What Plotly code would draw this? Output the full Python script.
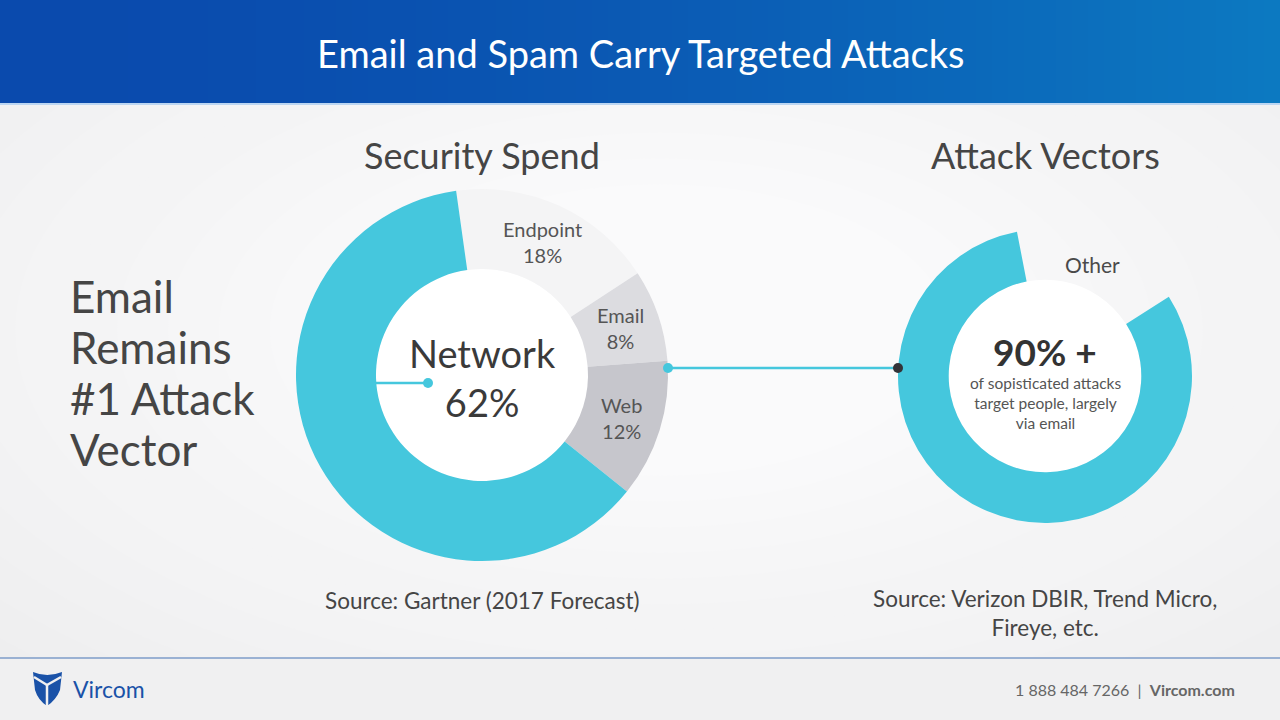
import math
import plotly.graph_objects as go

# ---------------- data ----------------
spend_labels = ["Endpoint", "Email", "Web", "Network"]
spend_values = [18, 8, 12, 62]
spend_colors = ["#F4F4F5", "#DCDCE0", "#C6C6CC", "#45C7DD"]

vector_labels = ["Other", "People / email"]
vector_values = [19, 81]          # shares as drawn in the ring
vector_colors = ["rgba(0,0,0,0)", "#45C7DD"]

W, H = 1280, 720
FONT = "Lato"
TXT = "#454545"

# geometry (pixels)
c1x, c1y, r1, hole1, rot1 = 482, 375, 186, 0.57, -8
c2x, c2y, r2, hole2, rot2 = 1045, 376, 147, 0.655, -11


def dom(cx, cy, r):
    return dict(x=[(cx - r) / W, (cx + r) / W], y=[1 - (cy + r) / H, 1 - (cy - r) / H])


def lerp(a, b, t):
    return tuple(int(round(a[i] + (b[i] - a[i]) * t)) for i in range(3))


def mid_points(values, rot, cx, cy, r_in, r_out):
    tot = float(sum(values))
    out, acc = [], 0.0
    rm = (r_in + r_out) / 2
    for v in values:
        th = math.radians(rot + 360 * (acc + v / 2) / tot)
        out.append((cx + rm * math.sin(th), cy - rm * math.cos(th)))
        acc += v
    return out


shapes = []
# soft radial background
nb = 14
for i in range(nb):
    s = 1.0 - i / nb * 0.75
    col = lerp((238, 238, 239), (250, 250, 251), i / (nb - 1))
    shapes.append(dict(type="circle", xref="x", yref="y", x0=660 - 950 * s, x1=660 + 950 * s,
                       y0=330 - 480 * s, y1=330 + 480 * s, fillcolor="rgb(%d,%d,%d)" % col,
                       line_width=0, layer="below"))
# header gradient
n = 80
left, right = (10, 74, 173), (12, 121, 193)
for i in range(n):
    t = i / (n - 1)
    col = lerp(left, right, t ** 1.6)
    shapes.append(dict(type="rect", xref="x", yref="y", x0=W * i / n, x1=W * (i + 1) / n + 1,
                       y0=0, y1=103, fillcolor="rgb(%d,%d,%d)" % col, line_width=0, layer="below"))
shapes.append(dict(type="line", xref="x", yref="y", x0=0, x1=W, y0=104, y1=104,
                   line=dict(color="#BCD6F2", width=2), layer="below"))
# footer
shapes.append(dict(type="rect", xref="x", yref="y", x0=0, x1=W, y0=658, y1=H,
                   fillcolor="#F0F0F1", line_width=0, layer="below"))
shapes.append(dict(type="line", xref="x", yref="y", x0=0, x1=W, y0=658, y1=658,
                   line=dict(color="#7E9DC8", width=1.5), layer="below"))
# white donut holes
for cx, cy, r, h in [(c1x, c1y, r1, hole1), (c2x, c2y, r2, hole2)]:
    shapes.append(dict(type="circle", xref="x", yref="y", x0=cx - r * h, x1=cx + r * h,
                       y0=cy - r * h, y1=cy + r * h, fillcolor="#FFFFFF", line_width=0, layer="below"))
# connector between the two charts
ly = 368
shapes.append(dict(type="line", xref="x", yref="y", x0=c1x + r1, x1=c2x - r2, y0=ly, y1=ly,
                   line=dict(color="#45C7DD", width=2.5), layer="above"))
shapes.append(dict(type="circle", xref="x", yref="y", x0=c1x + r1 - 5, x1=c1x + r1 + 5,
                   y0=ly - 5, y1=ly + 5, fillcolor="#45C7DD", line_width=0, layer="above"))
shapes.append(dict(type="circle", xref="x", yref="y", x0=c2x - r2 - 5, x1=c2x - r2 + 5,
                   y0=ly - 5, y1=ly + 5, fillcolor="#333338", line_width=0, layer="above"))
# pointer into Network
py = 383
shapes.append(dict(type="line", xref="x", yref="y", x0=c1x - r1 * hole1, x1=c1x - 54, y0=py, y1=py,
                   line=dict(color="#45C7DD", width=2.5), layer="above"))
shapes.append(dict(type="circle", xref="x", yref="y", x0=c1x - 59, x1=c1x - 49,
                   y0=py - 5, y1=py + 5, fillcolor="#45C7DD", line_width=0, layer="above"))
# Vircom logo
shapes.append(dict(type="path", xref="x", yref="y",
                   path="M 33 672 Q 47 678 62 672 L 60 690 Q 56 700 47 706 Q 38 700 35 690 Z",
                   fillcolor="#1A52A8", line_width=0, layer="above"))
for x1, y1 in [(34, 677), (61, 677), (47, 707)]:
    shapes.append(dict(type="line", xref="x", yref="y", x0=47, y0=685, x1=x1, y1=y1,
                       line=dict(color="#F0F0F1", width=2.5), layer="above"))

fig = go.Figure()
fig.add_trace(go.Pie(
    labels=spend_labels, values=spend_values, sort=False, direction="clockwise", rotation=rot1,
    hole=hole1, domain=dom(c1x, c1y, r1),
    marker=dict(colors=spend_colors, line=dict(width=0)),
    textinfo="none", hoverinfo="skip", showlegend=False))
fig.add_trace(go.Pie(
    labels=vector_labels, values=vector_values, sort=False, direction="clockwise", rotation=rot2,
    hole=hole2, domain=dom(c2x, c2y, r2),
    marker=dict(colors=vector_colors, line=dict(width=0)),
    textinfo="none", hoverinfo="skip", showlegend=False))
# invisible scatter to establish pixel axes
fig.add_trace(go.Scatter(x=[0, W], y=[0, H], mode="markers", marker=dict(opacity=0),
                         hoverinfo="skip", showlegend=False))

ann = []


def A(text, x, y, size, color=TXT, xanchor="center", yanchor="middle", **kw):
    ann.append(dict(text=text, x=x, y=y, xref="x", yref="y", showarrow=False, xanchor=xanchor,
                    yanchor=yanchor, font=dict(family=FONT, size=size, color=color), **kw))


# slice labels placed at the middle of each slice
for (x, y), lab, val in zip(mid_points(spend_values, rot1, c1x, c1y, r1 * hole1, r1),
                            spend_labels, spend_values):
    if lab != "Network":
        A("%s<br>%d%%" % (lab, val), x, y, 20, color="#555555")
ox, oy = mid_points(vector_values, rot2, c2x, c2y, r2 * hole2, r2)[0]
A(vector_labels[0], ox, oy, 21, color="#4A4A4A")

A("Email and Spam Carry Targeted Attacks", 640, 53, 38, color="#FFFFFF")
A("Security Spend", c1x, 155, 36)
A("Attack Vectors", c2x, 155, 36)
A("Network<br>62%", c1x, 377, 38, color="#3A3A3A")
for i, line in enumerate(["Email", "Remains", "#1 Attack", "Vector"]):
    A(line, 68, 296 + 51 * i, 44, xanchor="left")
A("<b>90% +</b>", c2x, 351, 37, color="#333333")
A("of sopisticated attacks<br>target people, largely<br>via email", c2x, 403, 15.5, color="#555555")
A("Source: Gartner (2017 Forecast)", c1x, 600, 22.5)
A("Source: Verizon DBIR, Trend Micro,<br>Fireye, etc.", c2x, 613, 22.5)
A("Vircom", 71, 689, 23, color="#1A52A8", xanchor="left")
A("1 888 484 7266  |  <b>Vircom.com</b>", 1237, 689, 16, color="#666666", xanchor="right")

fig.update_layout(
    width=W, height=H, margin=dict(l=0, r=0, t=0, b=0),
    paper_bgcolor="#EEEEEF", plot_bgcolor="rgba(0,0,0,0)",
    xaxis=dict(range=[0, W], visible=False, fixedrange=True),
    yaxis=dict(range=[H, 0], visible=False, fixedrange=True),
    shapes=shapes, annotations=ann, showlegend=False,
)
fig.write_html("out.html", config={"displayModeBar": False},
               post_script="document.body.style.margin='0';document.body.style.overflow='hidden';")
